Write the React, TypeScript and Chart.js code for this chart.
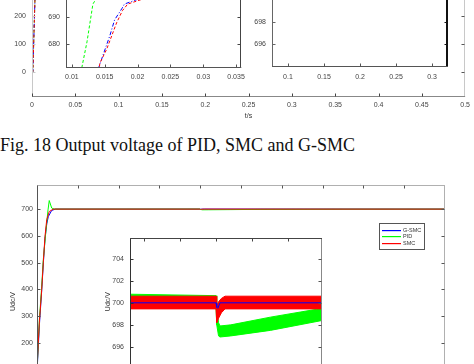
import React, { useEffect, useRef } from 'react';
import { Chart, registerables } from 'chart.js';

Chart.register(...registerables);

// ---------------- DATA ----------------
// Upper remnant (previous figure): start-up transients of Udc (V) vs t (s)
const upT_SMC = [0, 0.001, 0.0022, 0.0034, 0.008, 0.01425, 0.0153, 0.0161, 0.0168, 0.0177, 0.0185, 0.025, 0.5];
const upV_SMC = [0, 0, 128, 255, 530, 673.1, 678.3, 683.4, 687.9, 692.4, 694.8, 700, 700];
const upT_GSMC = [0, 0.001, 0.0022, 0.0034, 0.008, 0.0141, 0.0158, 0.0165, 0.0176, 0.018, 0.024, 0.5];
const upV_GSMC = [0, 0, 130, 257, 540, 671.7, 683.4, 689.0, 693.1, 694.8, 700, 700];
const upT_PID = [0, 0.001, 0.0022, 0.0034, 0.007, 0.0115, 0.0123, 0.0132, 0.016, 0.022, 0.5];
const upV_PID = [0, 0, 132, 260, 520, 671.4, 681, 694.8, 706, 700, 700];

// Fig. 18 main plot
const mainT_SMC = [0, 0.0007, 0.0056, 0.0115, 0.0154, 0.0196, 0.0238, 0.0301, 0.04, 0.3995, 0.4005, 0.403, 0.41, 1];
const mainV_SMC = [0, 125, 275, 399, 500, 598, 660, 691, 700, 700, 698.9, 699.4, 700, 700];
const mainT_GSMC = [0, 0.001, 0.006, 0.0115, 0.0154, 0.0196, 0.024, 0.0277, 0.036, 0.045, 0.3995, 0.4005, 0.402, 0.405, 1];
const mainV_GSMC = [0, 120, 270, 395, 495, 590, 645, 672, 695, 700, 700, 699.6, 699.5, 700, 700];
const mainT_PID = [0, 0.001, 0.006, 0.0115, 0.0154, 0.0221, 0.027, 0.03, 0.036, 0.042, 0.3995, 0.4005, 0.405, 0.42, 0.475, 0.547, 0.75, 1];
const mainV_PID = [0, 130, 290, 410, 511, 623, 697, 732, 704, 700, 700.2, 699, 697.4, 697.5, 698.1, 699, 699.8, 700];

// Fig. 18 zoomed inset (noise bands as upper/lower envelopes)
const insT_GSMC = [0.28, 0.3995, 0.4005, 0.402, 0.405, 0.547];
const insV_GSMC = [700, 700, 699.6, 699.5, 700, 700];
const insT_SMC = [0.28, 0.3995, 0.4005, 0.403, 0.407, 0.412, 0.547];
const insHi_SMC = [700.6, 700.6, 699.6, 700.1, 700.4, 700.6, 700.6];
const insLo_SMC = [699.45, 699.45, 698.2, 698.6, 699.1, 699.45, 699.45];
const insT_PID = [0.28, 0.3995, 0.4005, 0.403, 0.405, 0.42, 0.475, 0.547];
const insHi_PID = [700.78, 700.65, 699.5, 698.2, 697.9, 698.0, 698.7, 699.5];
const insLo_PID = [699.6, 699.6, 698.0, 697.0, 696.9, 697.0, 697.5, 698.4];

// Ticks
const upOuterXTicks = [0, 0.05, 0.1, 0.15, 0.2, 0.25, 0.3, 0.35, 0.4, 0.45, 0.5];
const upOuterYTicks = [0, 100, 200, 300, 400, 500, 600, 700, 800];
const upIn1XTicks = [0.01, 0.015, 0.02, 0.025, 0.03, 0.035];
const upIn1YTicks = [680, 690, 700];
const upIn2XTicks = [0.1, 0.15, 0.2, 0.25, 0.3];
const upIn2YTicks = [696, 698];
const mainXTicks = [0, 0.1, 0.2, 0.3, 0.4, 0.5, 0.6, 0.7, 0.8, 0.9, 1];
const mainYTicks = [0, 100, 200, 300, 400, 500, 600, 700];
const insXTicks = [0.3, 0.35, 0.4, 0.45, 0.5];
const insYTicks = [696, 698, 700, 702, 704];

const legendNames = ['G-SMC', 'PID', 'SMC'];
const caption = 'Fig. 18 Output voltage of PID, SMC and G-SMC';

// ---------------- HELPERS ----------------
const FAMILY = '"Liberation Sans", Arial, sans-serif';
const RED = '#ff0000';
const GREEN = '#00ff00';
const BLUE = '#0000ff';

const matAxes = {
  id: 'matAxes',
  beforeDraw(chart: any, _a: any, o: any) {
    if (!o || !o.bg) return;
    const { ctx, chartArea: a } = chart;
    ctx.save();
    ctx.fillStyle = o.bg;
    ctx.fillRect(a.left, a.top, a.right - a.left, a.bottom - a.top);
    ctx.restore();
  },
  afterDatasetsDraw(chart: any, _a: any, o: any) {
    if (!o || !o.sides) return;
    const { ctx, chartArea: a, scales } = chart;
    const xs = scales.x;
    const ys = scales.y;
    const L = o.tickLen ?? 3;
    const s = o.sides;
    const seg = (c: string, w: number, x1: number, y1: number, x2: number, y2: number) => {
      ctx.strokeStyle = c;
      ctx.lineWidth = w;
      ctx.setLineDash([]);
      ctx.beginPath();
      ctx.moveTo(x1, y1);
      ctx.lineTo(x2, y2);
      ctx.stroke();
    };
    ctx.save();
    const L0 = Math.round(a.left) + 0.5;
    const R0 = Math.round(a.right) - 0.5;
    const T0 = Math.round(a.top) + 0.5;
    const B0 = Math.round(a.bottom) - 0.5;
    const px = (sc: any, v: number) => Math.round(sc.getPixelForValue(v)) + 0.5;
    if (s.left) {
      seg(s.left.c, s.left.w || 1, L0, a.top, L0, a.bottom);
      ys.ticks.forEach((t: any) => { const p = px(ys, t.value); if (p > a.top && p < a.bottom) seg(s.left.tc || s.left.c, 1, L0, p, L0 + L, p); });
    }
    if (s.right) {
      const RR = s.right.w === 2 ? R0 - 0.5 : R0;
      seg(s.right.c, s.right.w || 1, RR, a.top, RR, a.bottom);
      ys.ticks.forEach((t: any) => { const p = px(ys, t.value); if (p > a.top && p < a.bottom) seg(s.right.tc || s.right.c, 1, R0, p, R0 - L, p); });
    }
    if (s.top) {
      seg(s.top.c, s.top.w || 1, a.left, T0, a.right, T0);
      xs.ticks.forEach((t: any) => { const p = px(xs, t.value); if (p > a.left && p < a.right) seg(s.top.tc || s.top.c, 1, p, T0, p, T0 + L); });
    }
    if (s.bottom) {
      seg(s.bottom.c, s.bottom.w || 1, a.left, B0, a.right, B0);
      xs.ticks.forEach((t: any) => { const p = px(xs, t.value); if (p > a.left && p < a.right) seg(s.bottom.tc || s.bottom.c, 1, p, B0, p, B0 - L); });
    }
    ctx.restore();
  },
};

const matLegend = {
  id: 'matLegend',
  afterDraw(chart: any, _a: any, o: any) {
    if (!o || !o.names) return;
    const { ctx, chartArea: a } = chart;
    const x0 = Math.round(a.right - o.right - o.w);
    const y0 = Math.round(a.top + o.top);
    ctx.save();
    ctx.fillStyle = '#fff';
    ctx.fillRect(x0, y0, o.w, o.h);
    ctx.strokeStyle = '#555';
    ctx.lineWidth = 1;
    ctx.strokeRect(x0 + 0.5, y0 + 0.5, o.w, o.h);
    ctx.font = `5.5px ${FAMILY}`;
    ctx.textBaseline = 'middle';
    o.names.forEach((n: string, i: number) => {
      const idx = chart.data.datasets.findIndex((d: any) => d.label === n);
      if (idx < 0) return;
      const meta = chart.getDatasetMeta(idx);
      const color = (meta && meta.dataset && meta.dataset.options && meta.dataset.options.borderColor) || chart.data.datasets[idx].borderColor;
      const y = Math.round(y0 + o.first + i * o.gap);
      ctx.setLineDash([]);
      ctx.fillStyle = color;
      ctx.fillRect(x0 + 3, y, 19, 1.2);
      ctx.fillStyle = '#333';
      ctx.fillText(n, x0 + 24, y + 0.6);
    });
    ctx.restore();
  },
};

Chart.register(matAxes as any, matLegend as any);

const fmt = (v: any) => String(parseFloat(Number(v).toFixed(4)));

function lineDs(label: string, t: number[], v: number[], color: string, dash: number[] = [], extra: any = {}) {
  return {
    label,
    data: t.map((x, i) => ({ x, y: v[i] })),
    borderColor: color,
    backgroundColor: color,
    borderWidth: 1,
    borderDash: dash,
    pointRadius: 0,
    tension: 0,
    fill: false,
    ...extra,
  };
}

function scale(min: number, max: number, ticks: number[], size: number, pad: number, title?: any) {
  return {
    type: 'linear',
    min,
    max,
    grid: { display: false, drawTicks: false },
    border: { display: false },
    afterBuildTicks: (s: any) => { s.ticks = ticks.map((value) => ({ value })); },
    afterFit: (s: any) => { if (s.isHorizontal()) s.height = size; else s.width = size; },
    ticks: {
      font: { family: FAMILY, size: 7 },
      color: '#444',
      padding: pad,
      autoSkip: false,
      maxRotation: 0,
      minRotation: 0,
      callback: (v: any) => fmt(v),
    },
    title: title
      ? { display: true, text: title.text, color: '#333', font: { family: FAMILY, size: 7 }, padding: title.padding }
      : { display: false },
  };
}

function baseOptions(padding: any, scales: any, plugins: any) {
  return {
    responsive: false,
    maintainAspectRatio: false,
    animation: false,
    events: [],
    layout: { padding, autoPadding: false },
    plugins: { legend: { display: false }, tooltip: { enabled: false }, title: { display: false }, ...plugins },
    scales,
  };
}

// ---------------- CHART CONFIGS ----------------
const upperDatasets = () => [
  lineDs('SMC', upT_SMC, upV_SMC, RED, [3, 2]),
  lineDs('G-SMC', upT_GSMC, upV_GSMC, BLUE, [4, 2, 1, 2]),
  lineDs('PID', upT_PID, upV_PID, GREEN, [3, 2]),
];

const makeUpOuter = () => ({
  type: 'line',
  data: { datasets: upperDatasets() },
  options: baseOptions(
    { left: 0, right: 5, top: 18, bottom: 0 },
    {
      x: scale(0, 0.5, upOuterXTicks, 27, 4, { text: 't/s', padding: { top: 0, bottom: 4 } }),
      y: scale(-90, 800, upOuterYTicks, 32, 6),
    },
    {
      matAxes: {
        tickLen: 3,
        sides: {
          left: { c: '#c8c8c8' },
          bottom: { c: '#888', tc: '#444' },
          right: { c: '#c8c8c8', tc: '#555' },
        },
      },
    }
  ),
});

const makeUpIn1 = () => ({
  type: 'line',
  data: { datasets: upperDatasets() },
  options: baseOptions(
    { left: 0, right: 7, top: 5, bottom: 0 },
    {
      x: scale(0.0091, 0.0358, upIn1XTicks, 17, 5),
      y: scale(671.4, 701.7, upIn1YTicks, 30, 6),
    },
    {
      matAxes: {
        bg: '#fff',
        tickLen: 3,
        sides: { left: { c: '#555' }, bottom: { c: '#555' }, right: { c: '#444' } },
      },
    }
  ),
});

const makeUpIn2 = () => ({
  type: 'line',
  data: { datasets: upperDatasets() },
  options: baseOptions(
    { left: 0, right: 8, top: 5, bottom: 0 },
    {
      x: scale(0.0778, 0.3222, upIn2XTicks, 18, 6),
      y: scale(694, 701.25, upIn2YTicks, 36, 6),
    },
    {
      matAxes: {
        bg: '#fff',
        tickLen: 3,
        sides: { left: { c: '#666' }, bottom: { c: '#555' }, right: { c: '#111', w: 2 } },
      },
    }
  ),
});

const makeMain = () => ({
  type: 'line',
  data: {
    datasets: [
      lineDs('SMC', mainT_SMC, mainV_SMC, RED),
      lineDs('PID', mainT_PID, mainV_PID, GREEN),
      lineDs('G-SMC', mainT_GSMC, mainV_GSMC, BLUE),
    ],
  },
  options: baseOptions(
    { left: 0, right: 29, top: 15, bottom: 0 },
    {
      x: scale(0, 1, mainXTicks, 14, 4),
      y: scale(-80, 790, mainYTicks, 37, 4, { text: 'Udc/V', padding: { top: 9, bottom: 0 } }),
    },
    {
      matAxes: {
        tickLen: 3,
        sides: {
          left: { c: '#555' },
          top: { c: '#b0b0b0', tc: '#555' },
          right: { c: '#b0b0b0', tc: '#555' },
        },
      },
      matLegend: { names: legendNames, right: 21.5, top: 38, w: 45, h: 26, first: 7, gap: 6.3 },
    }
  ),
});

const makeInset = () => ({
  type: 'line',
  data: {
    datasets: [
      lineDs('G-SMC', insT_GSMC, insV_GSMC, BLUE),
      lineDs('SMC+', insT_SMC, insHi_SMC, RED),
      lineDs('SMC-', insT_SMC, insLo_SMC, RED, [], { fill: '-1' }),
      lineDs('PID+', insT_PID, insHi_PID, GREEN),
      lineDs('PID-', insT_PID, insLo_PID, GREEN, [], { fill: '-1' }),
    ],
  },
  options: baseOptions(
    { left: 0, right: 8, top: 10, bottom: 0 },
    {
      x: scale(0.28, 0.5467, insXTicks, 23, 4),
      y: scale(694.36, 705.86, insYTicks, 30, 6, { text: 'Udc/V', padding: { top: 4, bottom: 0 } }),
    },
    {
      matAxes: {
        bg: '#fff',
        tickLen: 3,
        sides: { left: { c: '#333' }, top: { c: '#444' }, right: { c: '#888', tc: '#555' } },
      },
    }
  ),
});

// ---------------- COMPONENTS ----------------
function Panel({ left, top, width, height, make }: { left: number; top: number; width: number; height: number; make: () => any }) {
  const ref = useRef<HTMLCanvasElement>(null);
  useEffect(() => {
    const chart = new Chart(ref.current as HTMLCanvasElement, make());
    return () => chart.destroy();
  }, []);
  return (
    <canvas
      ref={ref}
      width={width}
      height={height}
      style={{ position: 'absolute', left, top, width, height, display: 'block' }}
    />
  );
}

export default function App() {
  return (
    <div
      style={{
        position: 'fixed',
        left: 0,
        top: 0,
        width: 474,
        height: 364,
        overflow: 'hidden',
        background: '#fff',
      }}
    >
      <Panel left={0} top={-170} width={474} height={294} make={makeUpOuter} />
      <Panel left={36} top={-25} width={214} height={110} make={makeUpIn1} />
      <Panel left={236} top={-25} width={220} height={110} make={makeUpIn2} />
      <div
        style={{
          position: 'absolute',
          left: 0,
          top: 136,
          fontFamily: '"Liberation Serif", "Times New Roman", serif',
          fontSize: 18,
          lineHeight: '18px',
          color: '#111',
          whiteSpace: 'nowrap',
        }}
      >
        {caption}
      </div>
      <Panel left={0} top={170} width={474} height={262} make={makeMain} />
      <Panel left={100} top={228} width={230} height={160} make={makeInset} />
    </div>
  );
}
